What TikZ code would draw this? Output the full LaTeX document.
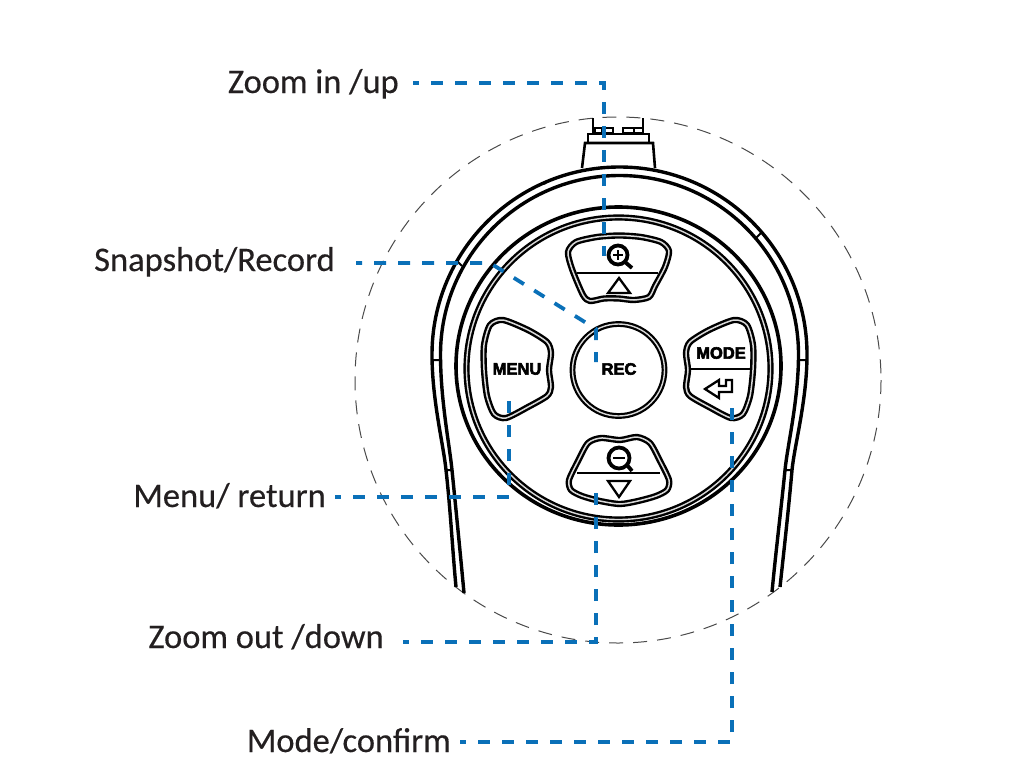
\documentclass[tikz,border=0pt]{standalone}
\usepackage{fontspec}
\setmainfont[FakeBold=0.35]{Carlito}
\newfontfamily\btnfont[FakeBold=3.5]{Liberation Sans Bold}
\definecolor{ink}{HTML}{231F20}
\definecolor{leader}{HTML}{0A70B8}
\definecolor{ringgrey}{HTML}{4A4A4A}
\tikzset{
  lbl/.style={anchor=base east,inner sep=0pt,text=ink,font=\fontsize{34.5}{38}\selectfont},
  conn/.style={draw=leader,line width=3.8pt,dash pattern=on 12pt off 12pt,dash phase=6pt},
  body/.style={draw=black,line width=3.4pt},
  thin/.style={draw=black,line width=2pt},
  ringa/.style={draw=black,line width=3.6pt},
  btn/.style={draw=black,line width=2.4pt,double=white!85!black,double distance=1.5pt,line join=round},
  btnlbl/.style={inner sep=0pt,text=black,font=\btnfont\fontsize{16.5}{18}\selectfont},
  hair/.style={draw=black,line width=2pt},
  sym/.style={draw=black,line width=2.3pt,line join=miter}
}
\begin{document}
\begin{tikzpicture}[x=1pt,y=-1pt]
\useasboundingbox[fill=white] (0,0) rectangle (1024,768);

% dashed circle
\draw[draw=ringgrey,line width=1pt,dash pattern=on 14pt off 10pt] (618,380) circle[radius=263];

% cable head
\draw[thin] (593,118) -- (593,133) (643,118) -- (643,133);
\draw[thin] (595,128) rectangle (613,133) (602,128) -- (602,133);
\draw[thin] (623,128) rectangle (643,133) (634,128) -- (634,133);
\draw[thin] (588,142) -- (588,134) -- (649,134) -- (649,142);
\draw[body,line width=2.6pt] (582,168) -- (585,143) -- (653,143) -- (655,168);

% body
\draw[body] (456,587) .. controls (452.5,550) and (450.5,510) .. (446,470)
  .. controls (443.5,445) and (432,400) .. (432,354.5)
  arc[start angle=180,end angle=360,radius=187.5]
  .. controls (807,400) and (794.5,445) .. (792,470)
  .. controls (788.5,510) and (784,550) .. (780,587);
\draw[body] (464,593) .. controls (460,550) and (456,510) .. (452,470)
  .. controls (449.5,445) and (440.5,400) .. (440.5,354.5)
  arc[start angle=180,end angle=360,radius=179]
  .. controls (798.5,400) and (787.5,445) .. (785,470)
  .. controls (781,510) and (776,550) .. (772,592);
\draw[thin] (432,360) -- (441,360) (798,360) -- (807,360) (446,470) -- (452,470) (785,470) -- (792,470)
  (456,260) -- (462,266) (756,238) -- (761,233) (544,184) -- (548,181);

% face rings
\draw[ringa] (618.5,366) ellipse[x radius=162.5,y radius=159];
\draw[draw=black,line width=2.4pt,double=white!85!black,double distance=1.4pt] (618.5,368.5) ellipse[x radius=152,y radius=151];

% buttons
\node[draw=black,line width=2.2pt,double=white!85!black,double distance=1.4pt,circle,minimum size=92pt,inner sep=0pt] (rec) at (618.5,370) {};
\node[btnlbl] (reclbl) at (619,369) {REC};

\draw[btn] plot[smooth cycle,tension=0.45] coordinates {(576,242) (597,237) (619,235.5) (641,237) (661,242) (669,251) (665,267) (655,286) (649,297) (634,300) (619,298.5) (604,298.5) (590,301) (583,295) (572,269) (568,252)};
\draw[btn] plot[smooth cycle,tension=0.45] coordinates {(601,438) (620,440) (637,437) (650,443) (660,461) (669,480) (667,490) (656,496) (638,501) (620,504) (600,501) (582,496) (571,490) (569,480) (578,461) (588,443)};
\draw[btn] plot[smooth cycle,tension=0.45] coordinates {(503,320) (490,325) (484,345) (484,370) (487,396) (494,414) (506,418) (528,407) (547,396) (551,387) (549,370) (551,353) (547,342) (528,330)};
\draw[btn] plot[smooth cycle,tension=0.45] coordinates {(734,320) (747,325) (753,345) (753,370) (750,396) (743,414) (731,418) (709,407) (690,396) (686,387) (688,370) (686,353) (690,342) (709,330)};

\node[btnlbl] (menulbl) at (517,369) {MENU};
\node[btnlbl] (modelbl) at (721,353) {MODE};

% dividers
\draw[hair] (577,273) -- (658,273) (577,473) -- (660,473) (690,369) -- (750,369);
% up symbols
\draw[sym] (608,293) -- (630,293) -- (619,278) -- cycle;
\draw[draw=black,line width=3.8pt] (618,255) circle[radius=9.5];
\draw[draw=black,line width=3.8pt] (625,262) -- (632,268);
\draw[draw=black,line width=2.8pt] (613,255) -- (623,255) (618,250) -- (618,260);
% down symbols
\draw[sym] (608,481) -- (630,481) -- (619,497) -- cycle;
\draw[draw=black,line width=3.8pt] (619,458) circle[radius=10.5];
\draw[draw=black,line width=3.8pt] (627,465) -- (632,471);
\draw[draw=black,line width=2.8pt] (613,458) -- (625,458);
% enter symbol
\draw[sym] (705,389) -- (719,380) -- (719,386) -- (726,386) -- (726,380) -- (732,380) -- (732,392) -- (719,392) -- (719,398) -- cycle;

% labels
\node[lbl] (zin)   at (399,93)  {Zoom in /up};
\node[lbl] (snap)  at (335,271) {Snapshot/Record};
\node[lbl] (menu)  at (326,507) {Menu/ return};
\node[lbl] (zout)  at (384,648) {Zoom out /down};
\node[lbl] (mode)  at (451,752) {Mode/confirm};

% connector ends
\coordinate (zinA) at (413,83);   \coordinate (zinB) at (604,83);   \coordinate (zinC) at (604,256);
\coordinate (snapA) at (356,263); \coordinate (snapB) at (490,263); \coordinate (snapC) at (596,329); \coordinate (snapD) at (596,362);
\coordinate (menuA) at (335,497); \coordinate (menuB) at (509,497); \coordinate (menuC) at (509,398);
\coordinate (zoutA) at (403,642); \coordinate (zoutB) at (596,642); \coordinate (zoutC) at (596,482);
\coordinate (modeA) at (460,742); \coordinate (modeB) at (732,742); \coordinate (modeC) at (732,402);

\draw[conn] (zinA) -- (zinB) -- (zinC);
\draw[conn] (snapA) -- (snapB) -- (snapC) -- (snapD);
\draw[conn] (menuA) -- (menuB) -- (menuC);
\draw[conn] (zoutA) -- (zoutB) -- (zoutC);
\draw[conn] (modeA) -- (modeB) -- (modeC);
\end{tikzpicture}
\end{document}
